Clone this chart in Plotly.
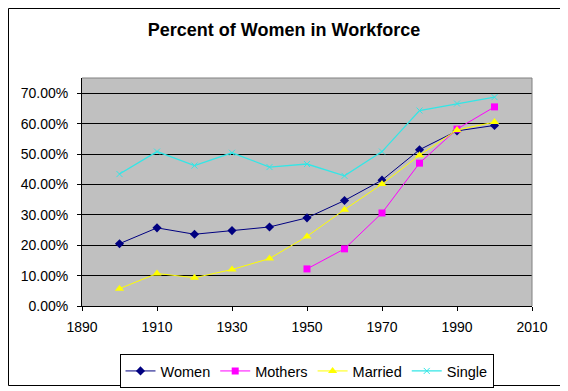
import plotly.graph_objects as go

years = [1900, 1910, 1920, 1930, 1940, 1950, 1960, 1970, 1980, 1990, 2000]
women = [0.205, 0.257, 0.236, 0.248, 0.260, 0.290, 0.347, 0.414, 0.514, 0.576, 0.594]
mothers_years = [1950, 1960, 1970, 1980, 1990, 2000]
mothers = [0.122, 0.188, 0.306, 0.470, 0.582, 0.655]
married = [0.057, 0.107, 0.093, 0.120, 0.156, 0.229, 0.317, 0.401, 0.496, 0.579, 0.605]
single = [0.434, 0.508, 0.462, 0.504, 0.457, 0.467, 0.428, 0.508, 0.643, 0.666, 0.687]

FONT = "Liberation Sans, Arial, sans-serif"

# page body has an 8px margin, so the figure is sized to the visible area
W, H = 560, 383
L, R, T, B = 74, 36, 70, 85
PW, PH = W - L - R, H - T - B

fig = go.Figure()
fig.add_trace(go.Scatter(x=years, y=women, name="Women", mode="lines+markers",
                         line=dict(color="#000080", width=1),
                         marker=dict(symbol="diamond", size=7, color="#000080")))
fig.add_trace(go.Scatter(x=mothers_years, y=mothers, name="Mothers", mode="lines+markers",
                         line=dict(color="#FF00FF", width=1),
                         marker=dict(symbol="square", size=7, color="#FF00FF")))
fig.add_trace(go.Scatter(x=years, y=married, name="Married", mode="lines+markers",
                         line=dict(color="#FFFF00", width=1),
                         marker=dict(symbol="triangle-up", size=8, color="#FFFF00")))
fig.add_trace(go.Scatter(x=years, y=single, name="Single", mode="lines+markers",
                         line=dict(color="#33E6E6", width=1.3),
                         marker=dict(symbol="x-thin", size=6, color="#33E6E6",
                                     line=dict(color="#33E6E6", width=1))))

fig.update_layout(
    template="none",
    width=W, height=H,
    margin=dict(l=L, r=R, t=T, b=B, autoexpand=False),
    paper_bgcolor="white",
    plot_bgcolor="#C0C0C0",
    font=dict(family=FONT, size=14, color="black"),
    title=dict(text="<b>Percent of Women in Workforce</b>", x=276 / W, xanchor="center",
               y=1 - 22 / H, yanchor="middle", yref="container",
               font=dict(family=FONT, size=18, color="black")),
    showlegend=True,
    legend=dict(orientation="h", x=(306.5 - 8 - L) / PW, xanchor="center",
                y=(T + PH - 346) / PH, yanchor="top",
                bordercolor="black", borderwidth=1, bgcolor="white",
                font=dict(family=FONT, size=14.5, color="black"),
                itemwidth=30, tracegroupgap=0),
    hovermode=False,
)

fig.update_xaxes(range=[1890, 2010], dtick=20, tick0=1890, tickformat="d",
                 showgrid=False, zeroline=False, showline=True, linecolor="black",
                 linewidth=1, ticks="outside", ticklen=4, tickcolor="black",
                 ticklabelstandoff=4, automargin=False)
fig.update_yaxes(range=[0, 0.75], dtick=0.1, tick0=0, tickformat=".2%",
                 showgrid=True, gridcolor="black", gridwidth=1, zeroline=False,
                 showline=True, linecolor="black", linewidth=1, ticks="outside",
                 ticklen=4, tickcolor="black", ticklabelstandoff=6, automargin=False)

# plot area top/right border (gray)
fig.add_shape(type="line", xref="paper", yref="paper", x0=0, x1=1, y0=1, y1=1,
              line=dict(color="#808080", width=1))
fig.add_shape(type="line", xref="paper", yref="paper", x0=1, x1=1, y0=0, y1=1,
              line=dict(color="#808080", width=1))
# outer chart border (figure pixel coords -> paper)
def px_x(p):
    return (p - L) / PW

def px_y(p):
    return (T + PH - p) / PH

fig.add_shape(type="rect", xref="paper", yref="paper",
              x0=px_x(0.5), x1=px_x(553), y0=px_y(377.5), y1=px_y(0.5),
              line=dict(color="black", width=1), fillcolor="rgba(0,0,0,0)")

fig.write_html("out.html")
